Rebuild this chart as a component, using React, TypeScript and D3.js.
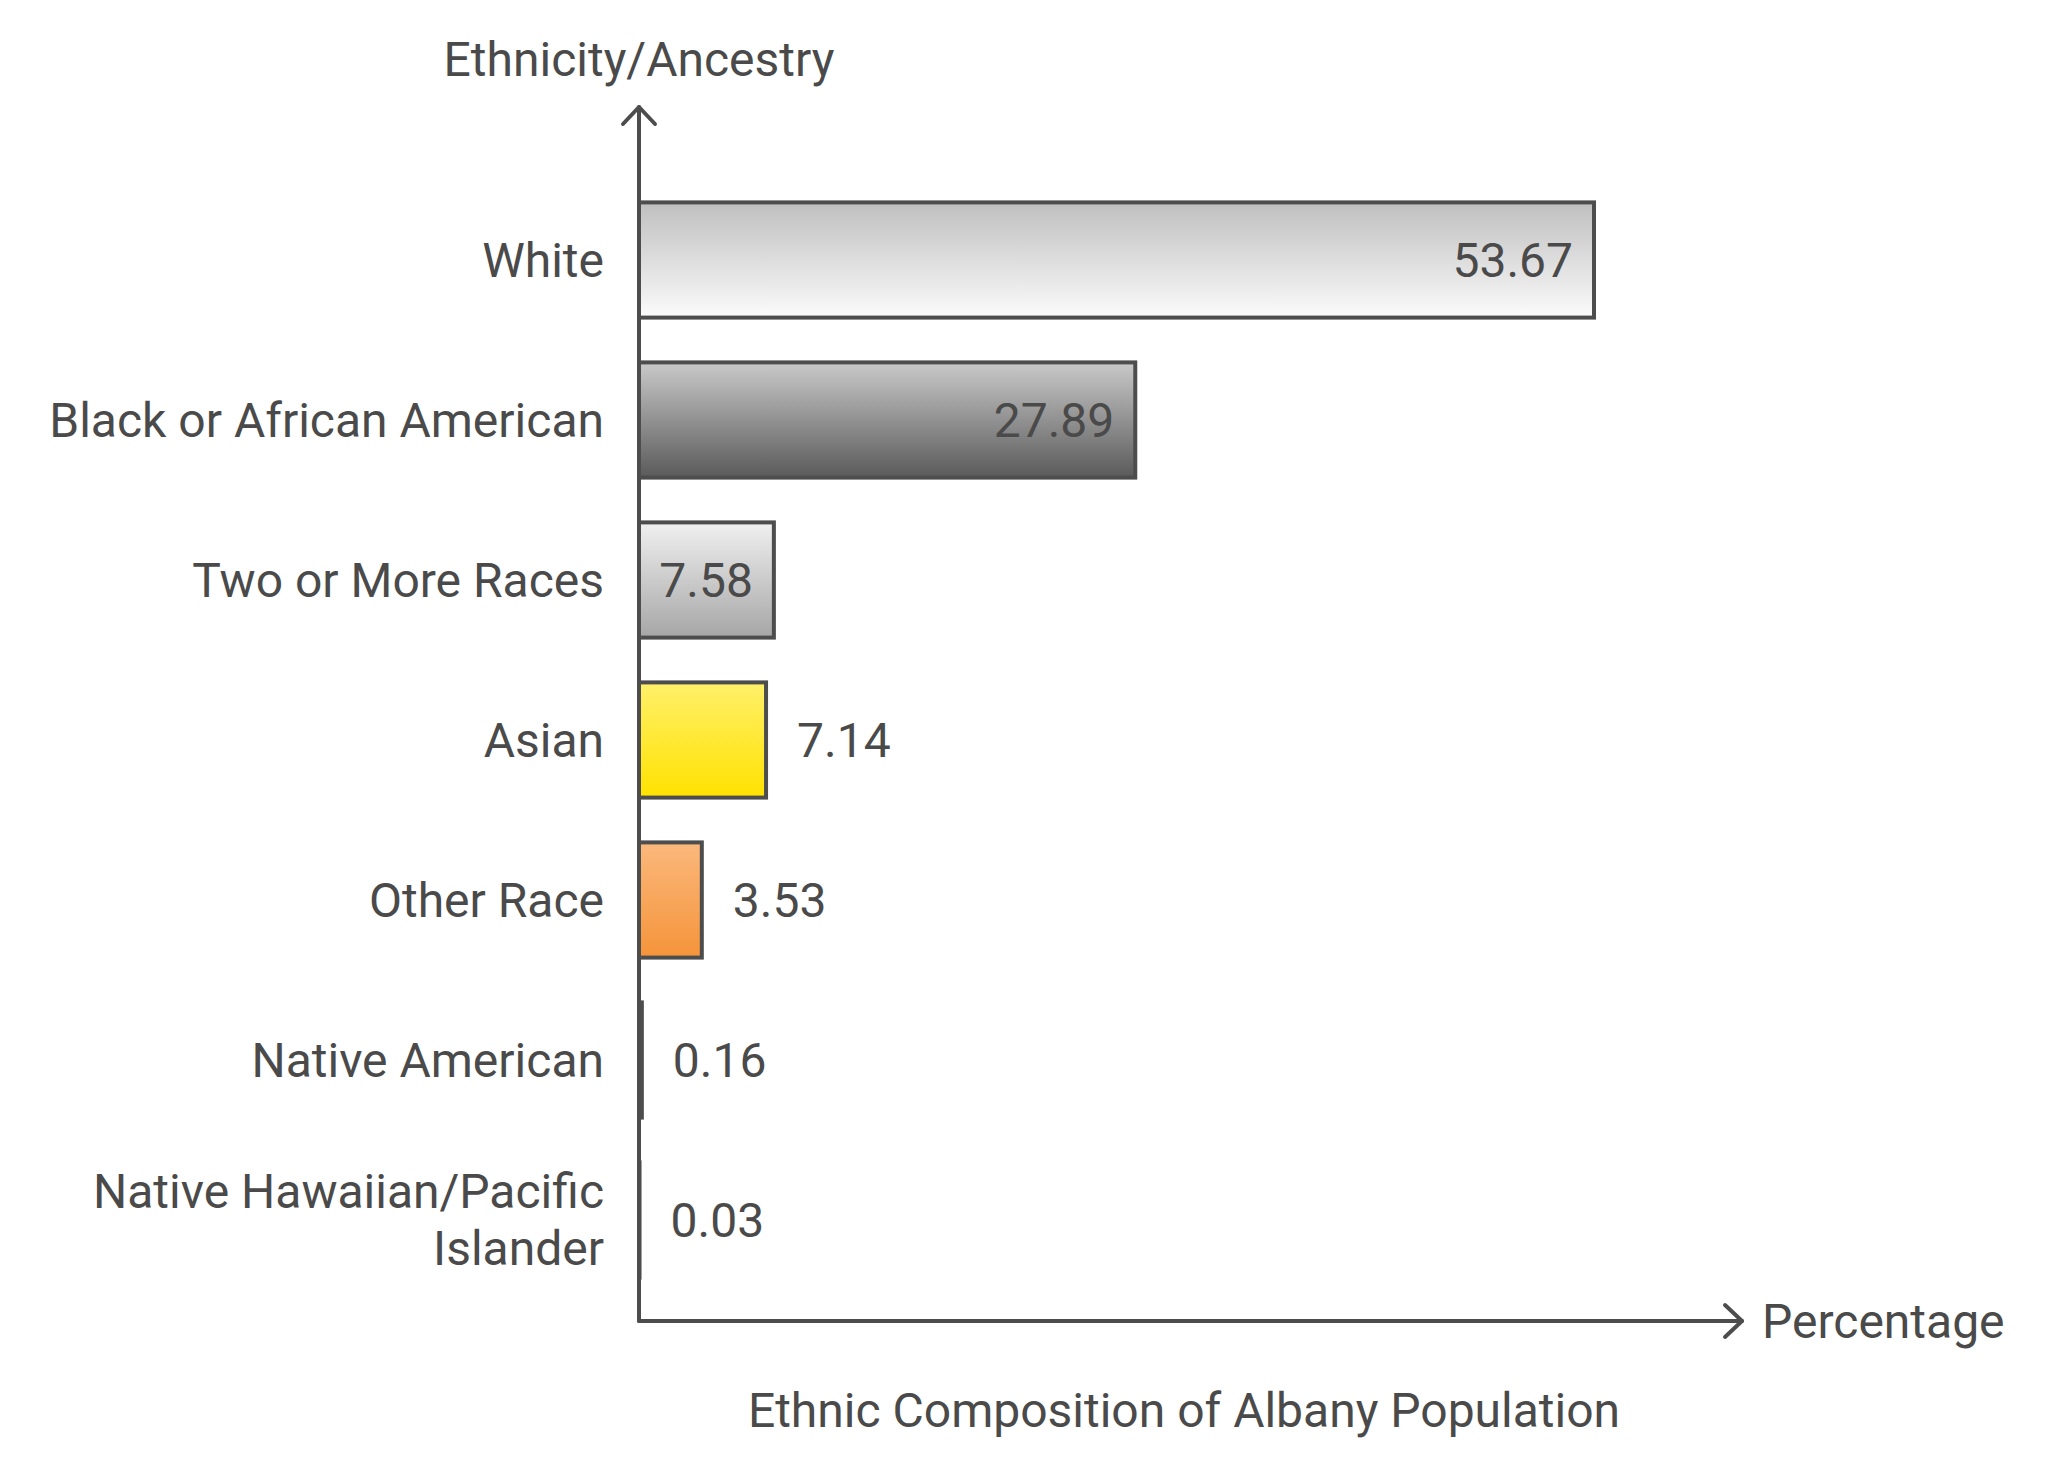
import React, { useEffect, useRef } from 'react';
import * as d3 from 'd3';

const categories = [
  'White',
  'Black or African American',
  'Two or More Races',
  'Asian',
  'Other Race',
  'Native American',
  'Native Hawaiian/Pacific Islander',
];
const values = [53.67, 27.89, 7.58, 7.14, 3.53, 0.16, 0.03];
// gradient top / bottom colours per bar
const topColors = ['#bfbfbf', '#c9c9c9', '#f0f0f0', '#fff06a', '#fbb87c', '#bdbdbd', '#bdbdbd'];
const bottomColors = ['#fbfbfb', '#5a5a5a', '#a6a6a6', '#ffe200', '#f5943a', '#5a5a5a', '#5a5a5a'];
const labelLines: Record<string, string[]> = {
  'Native Hawaiian/Pacific Islander': ['Native Hawaiian/Pacific', 'Islander'],
};

const W = 2048;
const H = 1467;
const FONT = 'Roboto, "Noto Sans", sans-serif';
const INK = '#4a4a4a';
const AXIS = '#4d4d4d';
const FS = '48px';

const App: React.FC = () => {
  const svgRef = useRef<SVGSVGElement>(null);

  useEffect(() => {
    if (!svgRef.current) return;
    const svg = d3.select(svgRef.current);
    svg.selectAll('*').remove();

    const x0 = 639;
    const axisBottom = 1321;

    const x = d3.scaleLinear().domain([0, d3.max(values)!]).range([x0, 1594]);
    const y = d3.scaleBand<string>().domain(categories).range([180, 1300])
      .paddingInner(0.28).paddingOuter(0.14);

    const defs = svg.append('defs');
    categories.forEach((c, i) => {
      const g = defs.append('linearGradient')
        .attr('id', `grad${i}`)
        .attr('x1', 0).attr('y1', 0).attr('x2', 0).attr('y2', 1);
      g.append('stop').attr('offset', '0%').attr('stop-color', topColors[i]);
      g.append('stop').attr('offset', '100%').attr('stop-color', bottomColors[i]);
    });

    // Bars
    svg.selectAll('.bar')
      .data(categories)
      .enter()
      .append('rect')
      .attr('class', 'bar')
      .attr('x', x0)
      .attr('y', d => y(d)!)
      .attr('width', (d, i) => x(values[i]) - x0)
      .attr('height', y.bandwidth())
      .attr('fill', (d, i) => `url(#grad${i})`)
      .attr('stroke', AXIS)
      .attr('stroke-width', 4);

    // Value labels: inside for the wide bars, outside otherwise
    svg.selectAll('.val')
      .data(categories)
      .enter()
      .append('text')
      .attr('class', 'val')
      .attr('x', (d, i) => values[i] > 7.5 ? x(values[i]) - 21 : x(values[i]) + 31)
      .attr('y', d => y(d)! + y.bandwidth() / 2)
      .attr('dy', '0.35em')
      .attr('text-anchor', (d, i) => values[i] > 7.5 ? 'end' : 'start')
      .style('font-family', FONT)
      .style('font-size', FS)
      .attr('fill', INK)
      .text((d, i) => values[i].toFixed(2));

    // Category labels
    const cat = svg.selectAll('.cat')
      .data(categories)
      .enter()
      .append('text')
      .attr('class', 'cat')
      .attr('text-anchor', 'end')
      .style('font-family', FONT)
      .style('font-size', FS)
      .attr('fill', INK);
    cat.each(function (d) {
      const lines = labelLines[d] || [d];
      const cy = y(d)! + y.bandwidth() / 2;
      const lh = 57;
      lines.forEach((ln, k) => {
        d3.select(this).append('tspan')
          .attr('x', 604)
          .attr('y', cy + (k - (lines.length - 1) / 2) * lh)
          .attr('dy', '0.35em')
          .text(ln);
      });
    });

    // Axes with open arrowheads
    const axisG = svg.append('g')
      .attr('fill', 'none')
      .attr('stroke', AXIS)
      .attr('stroke-width', 4)
      .attr('stroke-linecap', 'round')
      .attr('stroke-linejoin', 'round');
    axisG.append('path').attr('d', `M${x0},${axisBottom}V107`);
    axisG.append('path').attr('d', `M${x0 - 16},124L${x0},107L${x0 + 16},124`);
    axisG.append('path').attr('d', `M${x0},${axisBottom}H1742`);
    axisG.append('path').attr('d', `M1725,${axisBottom - 16}L1742,${axisBottom}L1725,${axisBottom + 16}`);

    svg.append('text')
      .attr('x', x0)
      .attr('y', 59)
      .attr('dy', '0.35em')
      .attr('text-anchor', 'middle')
      .style('font-family', FONT)
      .style('font-size', FS)
      .attr('fill', INK)
      .text('Ethnicity/Ancestry');

    svg.append('text')
      .attr('x', 1762)
      .attr('y', axisBottom)
      .attr('dy', '0.35em')
      .style('font-family', FONT)
      .style('font-size', FS)
      .attr('fill', INK)
      .text('Percentage');

    svg.append('text')
      .attr('x', 1184)
      .attr('y', 1410)
      .attr('dy', '0.35em')
      .attr('text-anchor', 'middle')
      .style('font-family', FONT)
      .style('font-size', FS)
      .attr('fill', INK)
      .text('Ethnic Composition of Albany Population');
  }, []);

  return (
    <div style={{ position: 'absolute', left: 0, top: 0, background: '#fff' }}>
      <svg ref={svgRef} width={W} height={H} viewBox={`0 0 ${W} ${H}`} style={{ display: 'block' }}></svg>
    </div>
  );
};

export default App;
